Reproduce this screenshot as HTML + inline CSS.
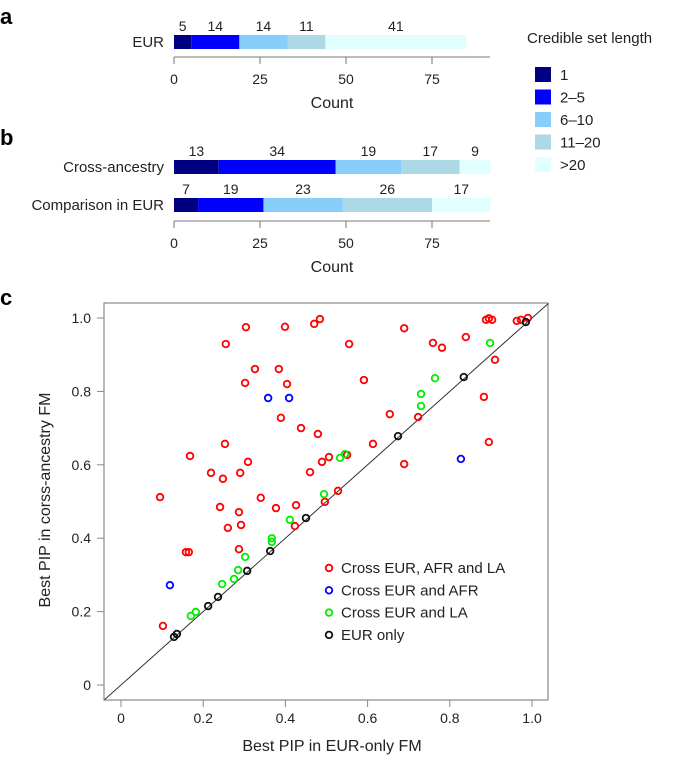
<!DOCTYPE html>
<html><head><meta charset="utf-8"><style>
body{margin:0;background:#fff;}
svg{display:block;font-family:"Liberation Sans",sans-serif;}
</style></head><body>
<svg id="fig" width="685" height="761" viewBox="0 0 685 761" xmlns="http://www.w3.org/2000/svg">
<text x="0" y="24" font-size="22" font-weight="bold">a</text>
<text x="0" y="145" font-size="22" font-weight="bold">b</text>
<text x="0" y="305" font-size="22" font-weight="bold">c</text>
<g id="bars"></g>
<g id="legend">
<text x="527" y="43" font-size="15" fill="#222">Credible set length</text>
</g>
<g id="scatter"></g>
</svg>
<script>
const NS="http://www.w3.org/2000/svg";
function mk(tag,attrs,parent,txt){const e=document.createElementNS(NS,tag);for(const k in attrs)e.setAttribute(k,attrs[k]);if(txt!==undefined)e.textContent=txt;parent.appendChild(e);return e;}

// ---- bar data ----
const binLabels=["1","2–5","6–10","11–20",">20"];
const binColors=["#000080","#0000ff","#87cefa","#add8e6","#e0ffff"];
const eurCounts=[5,14,14,11,41];
const crossCounts=[13,34,19,17,9];
const compCounts=[7,19,23,26,17];
const countTicks=[0,25,50,75];

const bx=v=>174+v*3.44;
const bars=document.getElementById('bars');
function drawBar(counts,y,label,name){
  const g=mk('g',{},bars);
  
  
  const t=mk('text',{x:164,y:y+12,'font-size':15,'text-anchor':'end',fill:'#222'},g,label);
  
  
  let c=0;
  counts.forEach((n,i)=>{
    const r=mk('rect',{x:bx(c),y:y,width:bx(c+n)-bx(c),height:14,fill:binColors[i]},g);
    
    
    const v=mk('text',{x:bx(c+n/2),y:y-4,'font-size':14,'text-anchor':'middle',fill:'#222'},g,String(n));
    
    
    c+=n;
  });
}
function drawAxis(y,name){
  const g=mk('g',{},bars);
  
  
  mk('line',{x1:174,x2:490,y1:y,y2:y,stroke:'#777','stroke-width':1},g);
  countTicks.forEach(t=>{
    mk('line',{x1:bx(t),x2:bx(t),y1:y,y2:y+7,stroke:'#777'},g);
    const l=mk('text',{x:bx(t),y:y+27,'font-size':14,'text-anchor':'middle',fill:'#222'},g,String(t));
    
    
  });
  const c=mk('text',{x:332,y:y+51,'font-size':16,'text-anchor':'middle',fill:'#222'},g,'Count');
  
  
}
drawBar(eurCounts,35,'EUR','eur-bar');
drawAxis(57,'panel-a-x-axis');
drawBar(crossCounts,160,'Cross-ancestry','cross-ancestry-bar');
drawBar(compCounts,198,'Comparison in EUR','comparison-eur-bar');
drawAxis(221,'panel-b-x-axis');

const leg=document.getElementById('legend');
binLabels.forEach((l,i)=>{
  const y=67+i*22.5;
  const r=mk('rect',{x:535,y:y,width:16,height:15,fill:binColors[i]},leg);
  
  
  const t=mk('text',{x:560,y:y+13,'font-size':15,fill:'#222'},leg,l);
  
  
});

// ---- scatter data ----
const redX=[.304,.399,.255,.47,.484,.326,.384,.302,.404,.389,.438,.479,.253,.168,.309,.219,.248,.29,.46,.095,.34,
 .689,.555,.759,.781,.839,.888,.895,.903,.963,.973,.99,.91,.591,.883,.723,.654,.613,.895,.55,.506,.489,.689,.528,
 .241,.377,.426,.287,.292,.26,.423,.496,.158,.165,.287,.102];
const redY=[.975,.976,.929,.984,.997,.861,.861,.823,.820,.728,.700,.684,.657,.624,.608,.578,.562,.578,.580,.512,.51,
 .972,.929,.932,.919,.948,.995,.999,.995,.992,.995,1.0,.886,.831,.785,.730,.738,.657,.662,.627,.621,.608,.602,.529,
 .485,.482,.490,.471,.436,.428,.433,.499,.362,.362,.37,.161];
const blueX=[.358,.409,.827,.119];
const blueY=[.782,.782,.616,.272];
const greenX=[.898,.764,.73,.73,.545,.533,.494,.411,.367,.367,.302,.285,.275,.246,.182,.17];
const greenY=[.932,.836,.793,.760,.629,.619,.52,.450,.40,.39,.349,.313,.289,.275,.199,.188];
const blackX=[.985,.834,.674,.45,.363,.307,.236,.212,.136,.129];
const blackY=[.989,.839,.678,.455,.365,.311,.240,.215,.139,.131];
const pipTicks=[0,0.2,0.4,0.6,0.8,1.0];
const pipTickLabels=["0","0.2","0.4","0.6","0.8","1.0"];

const sx=v=>121+v*411, sy=v=>685-v*367;
const sc=document.getElementById('scatter');
const frame=mk('rect',{x:104,y:303,width:444,height:397,fill:'none',stroke:'#888','stroke-width':1.2},sc);


const diag=mk('line',{x1:sx(-0.04),y1:sy(-0.04),x2:sx(1.04),y2:sy(1.04),stroke:'#333','stroke-width':1},sc);


pipTicks.forEach((t,i)=>{
  mk('line',{x1:sx(t),x2:sx(t),y1:700,y2:707,stroke:'#888'},sc);
  const a=mk('text',{x:sx(t),y:723,'font-size':14,'text-anchor':'middle',fill:'#222'},sc,pipTickLabels[i]);
  
  
  mk('line',{x1:97,x2:104,y1:sy(t),y2:sy(t),stroke:'#888'},sc);
  const b=mk('text',{x:91,y:sy(t)+5,'font-size':14,'text-anchor':'end',fill:'#222'},sc,pipTickLabels[i]);
  
  
});
const xt=mk('text',{x:332,y:751,'font-size':16,'text-anchor':'middle',fill:'#222'},sc,'Best PIP in EUR-only FM');


const yt=mk('text',{x:0,y:0,'font-size':16,'text-anchor':'middle',fill:'#222',transform:'translate(50,500) rotate(-90)'},sc,'Best PIP in corss-ancestry FM');


function pts(xs,ys,col,name){
  xs.forEach((x,i)=>{
    const c=mk('circle',{cx:sx(x),cy:sy(ys[i]),r:3.3,fill:'none',stroke:col,'stroke-width':1.8},sc);
    
    
  });
}
pts(redX,redY,'#ff0000','point-eur-afr-la');
pts(blueX,blueY,'#0000ff','point-eur-afr');
pts(greenX,greenY,'#00ee00','point-eur-la');
pts(blackX,blackY,'#111','point-eur-only');
const legItems=[["Cross EUR, AFR and LA","#ff0000"],["Cross EUR and AFR","#0000ff"],["Cross EUR and LA","#00ee00"],["EUR only","#111"]];
legItems.forEach((it,i)=>{
  const y=568+i*22.3;
  const c=mk('circle',{cx:329,cy:y,r:3.3,fill:'none',stroke:it[1],'stroke-width':1.8},sc);
  
  
  const t=mk('text',{x:341,y:y+5,'font-size':15,fill:'#222'},sc,it[0]);
  
  
});
</script>
</body></html>
